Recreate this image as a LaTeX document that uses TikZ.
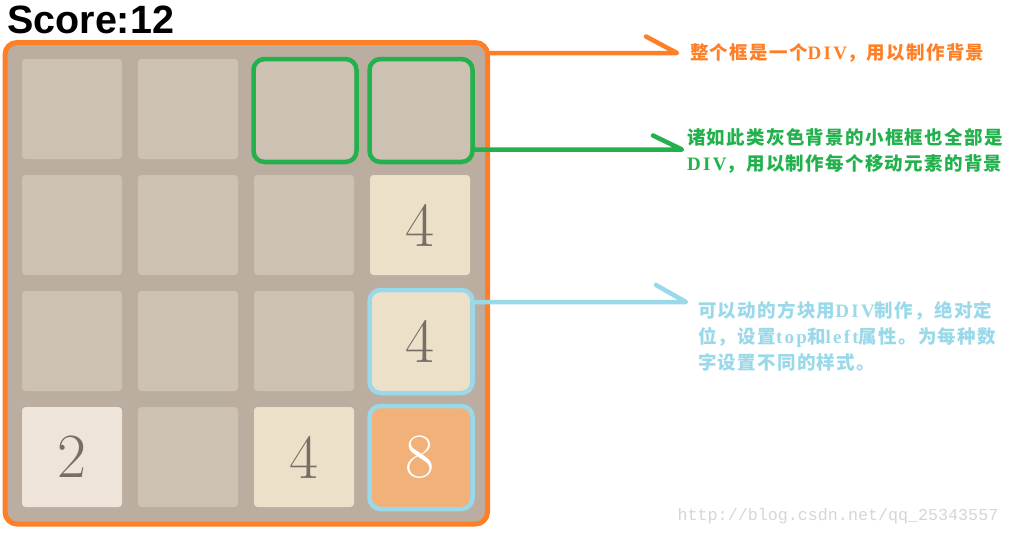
\documentclass[tikz,border=0pt]{standalone}
\usepackage{fontspec}
\newfontfamily\cjkf{Noto Sans CJK SC}[LetterSpace=7]
\newfontfamily\latf{Liberation Serif}[LetterSpace=12]
\newfontfamily\scoref{Liberation Sans}
\newfontfamily\wmf{Liberation Mono}
\definecolor{frameor}{HTML}{FF7F27}
\definecolor{boardbg}{HTML}{BBADA0}
\definecolor{emptyc}{HTML}{CDC1B4}
\definecolor{ctwo}{HTML}{EEE4DA}
\definecolor{cfour}{HTML}{EDE0C8}
\definecolor{ceight}{HTML}{F2B179}
\definecolor{numc}{HTML}{776E65}
\definecolor{grn}{HTML}{22B14C}
\definecolor{lblue}{HTML}{99D9EA}
\definecolor{wmgray}{HTML}{D6D6D6}
\tikzset{
  boardbox/.style={draw=frameor, line width=5pt, fill=boardbg, rounded corners=12pt,
    inner sep=0pt, outer sep=0pt, minimum width=482.5pt, minimum height=481.5pt},
  tilebox/.style={minimum size=100pt, inner sep=0pt, outer sep=0pt, rounded corners=3.5pt,
    font=\fontsize{63}{63}\selectfont},
  hlbox/.style={draw=#1, line width=4.5pt, rounded corners=11pt, inner sep=0pt, outer sep=0pt,
    minimum width=103pt, minimum height=103pt},
  conn/.style={draw=#1, line width=4.5pt, line cap=round, line join=round},
  anntext/.style={anchor=west, inner sep=0pt, align=left,
    font=\fontsize{18.5}{26}\selectfont\cjkf\bfseries, text=#1},
}
\newcommand{\lt}[1]{{\latf\bfseries\fontsize{19}{26}\selectfont #1}}
\begin{document}
\begin{tikzpicture}[x=1pt,y=-1pt]
\useasboundingbox[fill=white] (0,0) rectangle (1009,536);

\node[anchor=base west, inner sep=0pt, font=\fontsize{39.5}{39.5}\selectfont\scoref\bfseries] (score) at (7,33) {Score:12};

\node[boardbox] (board) at (246.25,283.25) {};

\foreach \c/\r/\f/\tc/\t in {
  0/0/emptyc/numc/, 1/0/emptyc/numc/, 2/0/emptyc/numc/, 3/0/emptyc/numc/,
  0/1/emptyc/numc/, 1/1/emptyc/numc/, 2/1/emptyc/numc/, 3/1/cfour/numc/4,
  0/2/emptyc/numc/, 1/2/emptyc/numc/, 2/2/emptyc/numc/, 3/2/cfour/numc/4,
  0/3/ctwo/numc/2, 1/3/emptyc/numc/, 2/3/cfour/numc/4, 3/3/ceight/white/8}
  \node[tilebox, fill=\f, text=\tc] (t\c\r) at ({72+116*\c},{109+116*\r}) {\t};

\node[hlbox=grn] (g20) at ([shift={(1,1.5)}]t20.center) {};
\node[hlbox=grn] (g30) at ([shift={(1,1.5)}]t30.center) {};
\node[hlbox=lblue] (b32) at ([shift={(1,0.5)}]t32.center) {};
\node[hlbox=lblue] (b33) at ([shift={(1,0.5)}]t33.center) {};

\coordinate (otip) at (677,53);
\coordinate (obarb) at (646,36.5);
\coordinate (gtip) at (682,149.5);
\coordinate (gbarb) at (653,135.5);
\coordinate (btip) at (686,302);
\coordinate (bbarb) at (656,285);

\draw[conn=frameor] (board.east |- otip) -- (otip) -- (obarb);
\draw[conn=grn] (g30.east |- gtip) -- (gtip) -- (gbarb);
\draw[conn=lblue] (b32.east |- btip) -- (btip) -- (bbarb);

\node[anntext=frameor] (ann1) at (690,53) {整个框是一个\lt{DIV}，用以制作背景};
\node[anntext=grn] (ann2) at (687,151) {诸如此类灰色背景的小框框也全部是\\\lt{DIV}，用以制作每个移动元素的背景};
\node[anntext=lblue] (ann3) at (698,336) {可以动的方块用\lt{DIV}制作，绝对定\\位，设置\lt{top}和\lt{left}属性。为每种数\\字设置不同的样式。};

\node[inner sep=0pt, font=\fontsize{16.7}{17}\selectfont\wmf, text=wmgray] (wm) at (838,516) {http://blog.csdn.net/qq\_25343557};
\end{tikzpicture}
\end{document}
